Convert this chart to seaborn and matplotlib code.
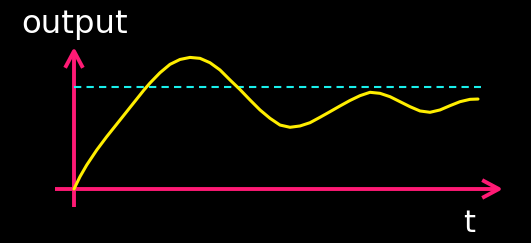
import matplotlib
matplotlib.use("Agg")
import matplotlib.pyplot as plt
import seaborn as sns
import pandas as pd

# ---- data ----
t_values = [0.0, 0.15, 0.318, 0.568, 0.818, 1.15, 1.483, 1.75, 1.9, 2.15, 2.4,
            2.65, 2.9, 3.15, 3.4, 3.65, 3.9, 4.15, 4.4, 4.65, 4.9, 5.15, 5.4,
            5.65, 5.9, 6.15, 6.4, 6.65, 6.9, 7.15, 7.4, 7.65, 7.9, 8.15, 8.4,
            8.65, 8.9, 9.15, 9.4, 9.65, 9.9, 10.1]
output_values = [0.0, 0.121, 0.235, 0.382, 0.513, 0.676, 0.840, 0.971, 1.039,
                 1.140, 1.222, 1.270, 1.290, 1.281, 1.238, 1.167, 1.069, 0.975,
                 0.873, 0.775, 0.693, 0.627, 0.605, 0.618, 0.650, 0.703, 0.758,
                 0.814, 0.868, 0.915, 0.948, 0.938, 0.905, 0.856, 0.807, 0.765,
                 0.752, 0.775, 0.817, 0.856, 0.879, 0.882]
setpoint_t = [0.0, 10.175]
setpoint_values = [1.0, 1.0]
y_label = "output"
x_label = "t"

sns.set_theme(style="dark")
plt.rcParams['font.family'] = ['DejaVu Sans']

W, H, DPI = 531, 243, 100
fig = plt.figure(figsize=(W / DPI, H / DPI), dpi=DPI, facecolor="black")
ax = fig.add_axes([0, 0, 1, 1])
ax.set_facecolor("black")

# pixel-linear mapping: t=(px-74)/40, y=(189-py)/102
ax.set_xlim((0 - 74) / 40, (W - 74) / 40)
ax.set_ylim((189 - H) / 102, 189 / 102)
ax.set_axis_off()

PINK = "#ff1a75"
arrow_props = dict(arrowstyle="->,head_length=0.6,head_width=0.32", color=PINK,
                   lw=2.8, mutation_scale=20, shrinkA=0, shrinkB=0,
                   capstyle="butt")
# x axis
ax.annotate("", xy=((503 - 74) / 40, 0), xytext=((55 - 74) / 40, 0),
            arrowprops=arrow_props, zorder=1)
# y axis
ax.annotate("", xy=(0, (189 - 47) / 102), xytext=(0, (189 - 207) / 102),
            arrowprops=arrow_props, zorder=1)

sp = pd.DataFrame({"t": setpoint_t, "v": setpoint_values})
sns.lineplot(data=sp, x="t", y="v", ax=ax, color="#19f0ec", lw=1.5,
             linestyle=(0, (3.5, 2.5)), zorder=2)

df = pd.DataFrame({"t": t_values, "output": output_values})
sns.lineplot(data=df, x="t", y="output", ax=ax, color="#ffee00", lw=2.2,
             zorder=3, sort=False)

fig.text(21 / W, 1 - 33 / H, y_label, color="white", fontsize=23.3,
         ha="left", va="baseline")
fig.text(463 / W, 1 - 232 / H, x_label, color="white", fontsize=22,
         ha="left", va="baseline")

fig.savefig("out.png", dpi=DPI, facecolor="black")
